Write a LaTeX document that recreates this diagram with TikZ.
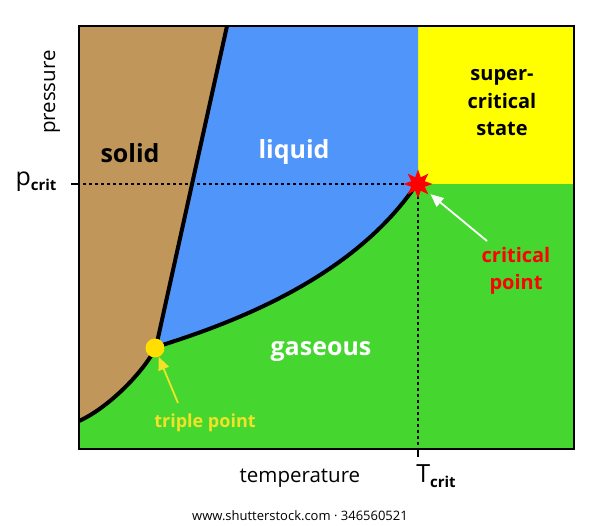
\documentclass[tikz,border=0pt]{standalone}
\usepackage{fontspec}
\setmainfont{Open Sans}
\usetikzlibrary{arrows.meta,shapes.geometric}

\definecolor{solidbrown}{RGB}{192,150,90}
\definecolor{liquidblue}{RGB}{80,150,250}
\definecolor{gasgreen}{RGB}{70,214,48}
\definecolor{superyellow}{RGB}{255,255,0}
\definecolor{tripleyellow}{RGB}{255,222,0}
\definecolor{labelyellow}{RGB}{242,226,40}

\begin{document}
\begin{tikzpicture}[x=1pt, y=-1pt,
    phase/.style={font=\bfseries\fontsize{25}{28}\selectfont},
    small phase/.style={font=\bfseries\fontsize{20}{27.5}\selectfont, align=center},
    axis label/.style={font=\fontsize{20.5}{23}\selectfont},
    phase line/.style={line width=4pt},
    crit line/.style={dash pattern=on 3pt off 3pt, line width=1.2pt},
    pointer/.style={-{Triangle[length=13pt,width=11pt]}, line width=1.8pt}]

                \useasboundingbox (0,0) rectangle (600,526);

                % Phase regions
                \fill[gasgreen] (79,26) rectangle (574,449);
                \fill[superyellow] (418,26) rectangle (574,184);
                \fill[solidbrown] (79,26) -- (227,26) -- (156,347)
                    .. controls (145,370) and (110,407) .. (79,421) -- cycle;
                \fill[liquidblue] (227,26) -- (156,347)
                    .. controls (250,318) and (355,272) .. (414,188)
                    -- (418,184) -- (418,26) -- cycle;

                % Phase boundaries
                \draw[phase line] (227,26) -- (156,347);
                \draw[phase line] (79,421) .. controls (110,407) and (145,370) .. (156,347);
                \draw[phase line] (156,347) .. controls (250,318) and (355,272) .. (414,188);

                % Frame
                \draw[line width=1.5pt] (79,26) rectangle (574,449);

                % Critical lines
                \coordinate (critpt) at (418,184);
                \coordinate (pdash) at (71,184);
                \coordinate (tdash) at (418,457);
                \draw[crit line] (pdash) -- (critpt);
                \draw[crit line] (critpt) -- (tdash);
                \draw[line width=1.2pt] (pdash) -- ++(7,0);
                \draw[line width=1.2pt] (tdash) -- ++(0,-7);

                % Points
                \node[star, star points=8, star point ratio=2, fill=red,
                    minimum size=29pt, inner sep=0pt] (crit) at (critpt) {};
                \node[circle, fill=tripleyellow, minimum size=19pt,
                    inner sep=0pt] (triple) at (155,348) {};

                % Phase labels
                \node[phase] (solid) at (130,153) {solid};
                \node[phase, white] (liquid) at (294,152) {liquid};
                \node[phase, white] (gaseous) at (321,352) {gaseous};
                \node[small phase] (super) at (502,103) {super-\\critical\\state};

                % Point labels
                \node[small phase, red] (critlabel) at (516,271) {critical\\point};
                \node[font=\bfseries\fontsize{18}{20}\selectfont, labelyellow]
                    (triplelabel) at (205,423) {triple point};
                \coordinate (crittail) at (487,241);
                \coordinate (tripletail) at (178,403);
                \draw[pointer, white, shorten >=4pt] (crittail) -- (crit);
                \draw[pointer, labelyellow] (tripletail) -- (triple);

                % Axis labels
                \node[axis label, rotate=90] (pressure) at (52,92) {pressure};
                \node[axis label] (temperature) at (300,478) {temperature};
                \node[font=\fontsize{25}{27}\selectfont] (pcrit) at (36,182)
                    {p\raisebox{-5pt}{\bfseries\fontsize{15}{15}\selectfont crit}};
                \node[font=\fontsize{25}{27}\selectfont] (tcrit) at (436,476)
                    {T\raisebox{-5pt}{\bfseries\fontsize{15}{15}\selectfont crit}};

                % Footer
                \node[font=\fontsize{13}{15}\selectfont] (footer) at (300,516)
                    {www.shutterstock.com · 346560521};

\end{tikzpicture}
\end{document}
